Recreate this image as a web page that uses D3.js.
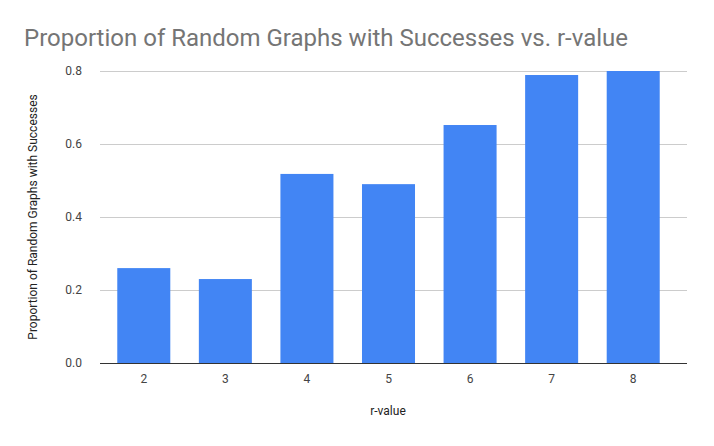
<!DOCTYPE html>
<html><head><meta charset="utf-8">
<script src="https://cdn.jsdelivr.net/npm/d3@7"></script>
<style>body{margin:0;background:#fff}svg{font-family:Roboto,Arial,sans-serif}</style>
</head><body>
<svg id="chart" width="714" height="446"></svg>
<script>
const categories = ['2','3','4','5','6','7','8'];
const values = [0.26, 0.23, 0.518, 0.49, 0.652, 0.789, 0.8];
const yTicks = [0, 0.2, 0.4, 0.6, 0.8];

const svg = d3.select('#chart');
const x = d3.scaleBand().domain(categories).range([103, 674]).paddingInner(0.35).paddingOuter(0.175);
const y = d3.scaleLinear().domain([0, 0.8]).range([363, 71]);

svg.append('text').attr('x', 24).attr('y', 46).attr('font-size', 24).attr('fill', '#757575')
  .text('Proportion of Random Graphs with Successes vs. r-value');

const grid = svg.append('g');
yTicks.forEach(t=>{
  grid.append('line').attr('x1', 100).attr('x2', 687).attr('y1', y(t)).attr('y2', y(t))
    .attr('stroke', t === 0 ? '#333' : '#ccc').attr('stroke-width', 1).attr('shape-rendering','crispEdges');
  grid.append('text').attr('x', 82).attr('y', y(t) + 4).attr('text-anchor', 'end')
    .attr('font-size', 12).attr('fill', '#444').text(t.toFixed(1));
});

svg.append('g').selectAll('rect').data(values).enter().append('rect')
  .attr('x', (d,i)=>x(categories[i])).attr('width', x.bandwidth())
  .attr('y', d=>y(d)).attr('height', d=>y(0)-y(d)).attr('fill', '#4285f4');

svg.append('line').attr('x1', 100).attr('x2', 687).attr('y1', y(0)).attr('y2', y(0))
  .attr('stroke', '#333').attr('shape-rendering','crispEdges');

categories.forEach(c=>{
  svg.append('text').attr('x', x(c) + x.bandwidth()/2).attr('y', 383).attr('text-anchor', 'middle')
    .attr('font-size', 12).attr('fill', '#444').text(c);
});

svg.append('text').attr('x', 388).attr('y', 415).attr('text-anchor', 'middle')
  .attr('font-size', 12).attr('fill', '#222').text('r-value');
svg.append('text').attr('transform', 'translate(37,217) rotate(-90)').attr('text-anchor', 'middle')
  .attr('font-size', 12).attr('fill', '#222').text('Proportion of Random Graphs with Successes');
</script>
</body></html>
